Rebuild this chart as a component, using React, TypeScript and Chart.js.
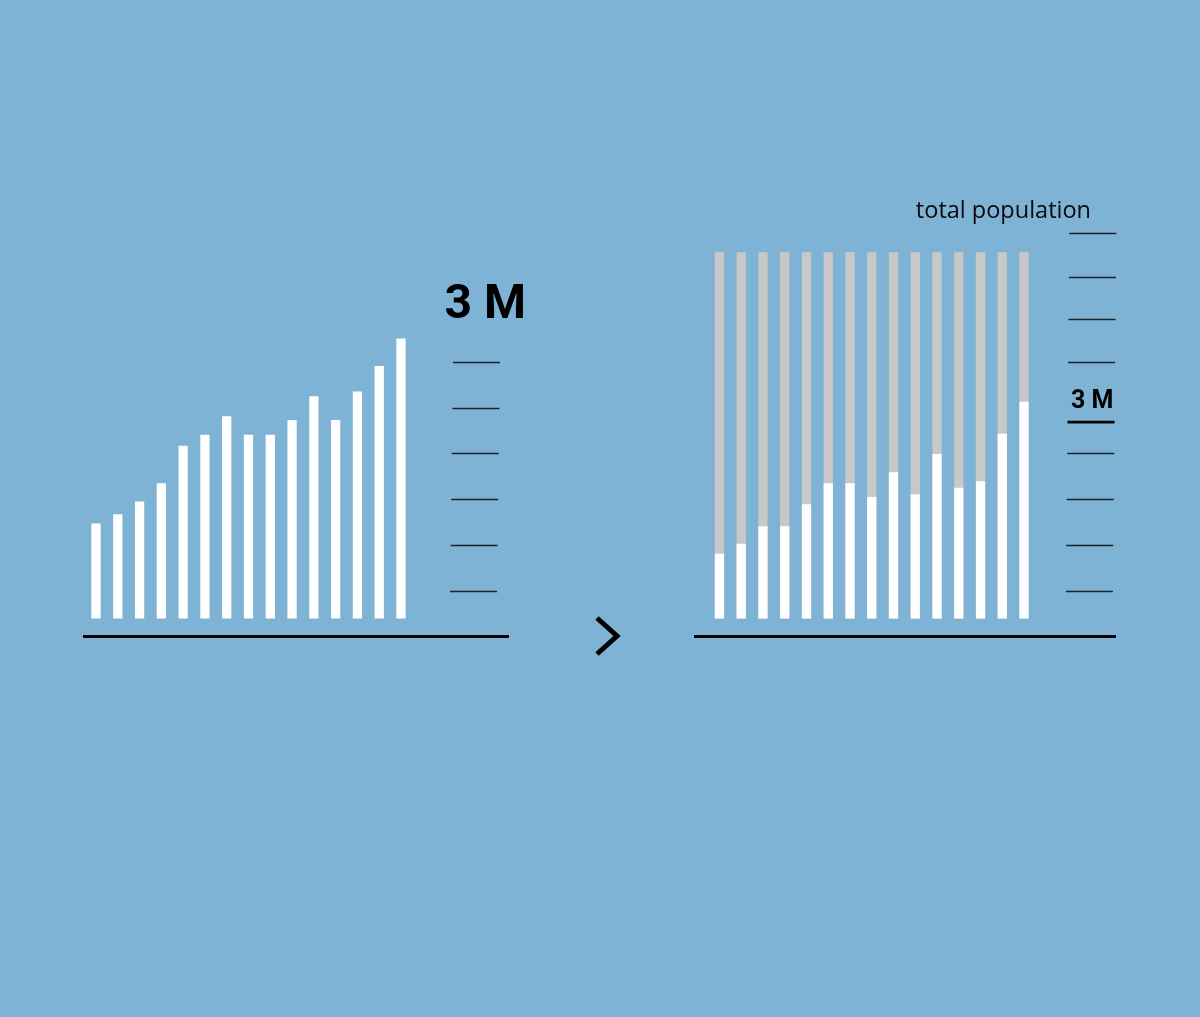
import React, { useEffect, useRef } from 'react';
import { Chart, registerables } from 'chart.js';

Chart.register(...registerables);

// values in millions of people
const categories = ['1', '2', '3', '4', '5', '6', '7', '8', '9', '10', '11', '12', '13', '14', '15'];
const beforeValues = [1.23, 1.33, 1.47, 1.67, 2.08, 2.2, 2.4, 2.2, 2.2, 2.36, 2.62, 2.36, 2.67, 2.95, 3.25];
const afterValues = [0.9, 1.01, 1.2, 1.2, 1.44, 1.67, 1.67, 1.52, 1.79, 1.55, 1.99, 1.62, 1.69, 2.21, 2.56];
const totalPopulation = [4.19, 4.19, 4.19, 4.19, 4.19, 4.19, 4.19, 4.19, 4.19, 4.19, 4.19, 4.19, 4.19, 4.19, 4.19];
const leftTicks = [0.5, 1, 1.5, 2, 2.5, 3];
const rightTicks = [0.5, 1, 1.5, 2, 3, 3.47, 3.93, 4.4];
const leftLabelValue = 3;
const rightMarkerValue = 2.34;
const markerLabel = '3 M';
const totalLabel = 'total population';

const BG = '#7fb3d5';
const BAR_BASE = 0.2;
const Y_MAX = 4.5;

type Deco = {
  ticks: number[];
  tickX: number;
  tickSlope: number;
  tickLen: number;
  lineFrom: number;
  lineTo: number;
  marker?: number;
  markerFont: string;
  labelValue: number;
  labelRight: number;
  labelGap: number;
  title?: string;
  chevron?: boolean;
};

const decoPlugin = {
  id: 'deco',
  afterDraw(chart: any, _args: any, opts: Deco) {
    const ctx = chart.ctx as CanvasRenderingContext2D;
    const y = chart.scales.y;
    ctx.save();
    // tick marks
    ctx.strokeStyle = '#17222b';
    ctx.lineWidth = 1.3;
    opts.ticks.forEach((v) => {
      const py = Math.round(y.getPixelForValue(v)) + 0.5;
      const x0 = opts.tickX + v * opts.tickSlope;
      ctx.beginPath();
      ctx.moveTo(x0, py);
      ctx.lineTo(x0 + opts.tickLen, py);
      ctx.stroke();
    });
    if (opts.marker !== undefined) {
      const py = y.getPixelForValue(opts.marker);
      const x0 = opts.tickX + opts.marker * opts.tickSlope;
      ctx.strokeStyle = '#000';
      ctx.lineWidth = 2.6;
      ctx.beginPath();
      ctx.moveTo(x0, py);
      ctx.lineTo(x0 + opts.tickLen, py);
      ctx.stroke();
    }
    // label "3 M"
    ctx.fillStyle = '#000';
    ctx.font = opts.markerFont;
    ctx.textAlign = 'right';
    ctx.textBaseline = 'alphabetic';
    ctx.fillText(markerLabel, opts.labelRight, y.getPixelForValue(opts.labelValue) - opts.labelGap);
    // base line
    const by = y.getPixelForValue(0);
    ctx.strokeStyle = '#000';
    ctx.lineWidth = 2.8;
    ctx.beginPath();
    ctx.moveTo(opts.lineFrom, by);
    ctx.lineTo(opts.lineTo, by);
    ctx.stroke();
    if (opts.title) {
      ctx.font = '23.5px "Open Sans", sans-serif';
      ctx.fillStyle = '#0a0a0a';
      ctx.textAlign = 'right';
      ctx.fillText(opts.title, 1091, 218);
    }
    if (opts.chevron) {
      ctx.strokeStyle = '#000';
      ctx.lineWidth = 5;
      ctx.lineJoin = 'miter';
      ctx.beginPath();
      ctx.moveTo(597, 618);
      ctx.lineTo(617, 636);
      ctx.lineTo(597, 654);
      ctx.stroke();
    }
    ctx.restore();
  },
};

function makeConfig(datasets: any[], padLeft: number, padRight: number, deco: Deco): any {
  // 91.6 px per million, zero at y = 636.5
  const top = 636.5 - Y_MAX * 91.6;
  return {
    type: 'bar',
    data: { labels: categories, datasets },
    plugins: [decoPlugin],
    options: {
      animation: false,
      responsive: true,
      maintainAspectRatio: false,
      layout: { padding: { left: padLeft, right: padRight, top, bottom: 380.5 } },
      plugins: { legend: { display: false }, tooltip: { enabled: false }, deco },
      scales: {
        x: { display: false },
        y: { display: false, min: 0, max: Y_MAX },
      },
    },
  };
}

const ChartCanvas: React.FC<{ config: any }> = ({ config }) => {
  const ref = useRef<HTMLCanvasElement | null>(null);
  useEffect(() => {
    if (!ref.current) return;
    const chart = new Chart(ref.current, config);
    return () => chart.destroy();
  }, [config]);
  return (
    <div style={{ position: 'absolute', left: 0, top: 0, width: 1200, height: 1017 }}>
      <canvas ref={ref} />
    </div>
  );
};

const leftConfig = makeConfig(
  [
    {
      data: beforeValues,
      backgroundColor: '#ffffff',
      base: BAR_BASE,
      barThickness: 8.6,
    },
  ],
  85.1,
  788.1,
  {
    ticks: leftTicks,
    tickX: 449.4,
    tickSlope: 1.2,
    tickLen: 47,
    lineFrom: 83,
    lineTo: 509,
    markerFont: 'bold 48px Roboto, sans-serif',
    labelValue: leftLabelValue,
    labelRight: 526,
    labelGap: 43.5,
    chevron: true,
  }
);

const rightConfig = makeConfig(
  [
    {
      data: afterValues,
      backgroundColor: '#ffffff',
      base: BAR_BASE,
      barThickness: 8.6,
      grouped: false,
    },
    {
      data: totalPopulation,
      backgroundColor: '#c8c8c8',
      base: BAR_BASE,
      barThickness: 8.6,
      grouped: false,
    },
  ],
  708.6,
  165.1,
  {
    ticks: rightTicks,
    tickX: 1065.4,
    tickSlope: 0.9,
    tickLen: 47,
    lineFrom: 694,
    lineTo: 1116,
    marker: rightMarkerValue,
    markerFont: 'bold 25px Roboto, sans-serif',
    labelValue: rightMarkerValue,
    labelRight: 1113.5,
    labelGap: 14,
    title: totalLabel,
  }
);

export default function App() {
  return (
    <div style={{ position: 'fixed', left: 0, top: 0, width: 1200, height: 1017, background: BG, overflow: 'hidden' }}>
      <ChartCanvas config={leftConfig} />
      <ChartCanvas config={rightConfig} />
    </div>
  );
}
